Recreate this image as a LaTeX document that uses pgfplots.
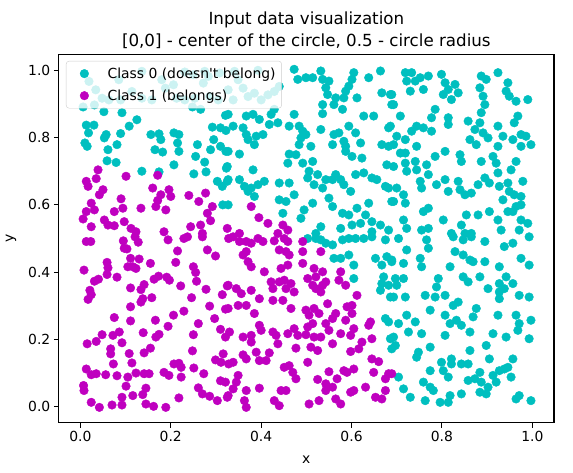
\documentclass[border=0pt]{standalone}
\usepackage{fontspec}
\setmainfont{DejaVu Sans}[Ligatures=TeXOff]
\usepackage{pgfplots}
\pgfplotsset{compat=1.18}
\definecolor{mc}{rgb}{0,0.75,0.75}
\definecolor{mm}{rgb}{0.75,0,0.75}
\definecolor{lgray}{rgb}{0.8,0.8,0.8}
\begin{document}
\begin{tikzpicture}
\begin{axis}[
  at={(0,0)}, anchor=south west,
  scale only axis, width=495.3bp, height=368.4bp,
  xmin=-0.048, xmax=1.048, ymin=-0.0476, ymax=1.0476,
  xtick={0,0.2,0.4,0.6,0.8,1.0}, ytick={0,0.2,0.4,0.6,0.8,1.0},
  xtick pos=bottom, ytick pos=left, tick align=outside,
  major tick length=4.9bp,
  every tick/.style={black, line width=1.1bp},
  axis line style={line width=1.1bp},
  /pgf/number format/fixed,
  /pgf/number format/fixed zerofill,
  /pgf/number format/precision=1,
  /pgf/number format/assume math mode=true,
  tick label style={font=\fontsize{13.95}{16}\selectfont},
  label style={font=\fontsize{13.95}{16}\selectfont},
  xlabel={x}, ylabel={y},
  xlabel shift=7bp, ylabel shift=5bp,
  title style={font=\fontsize{16.75}{22.1}\selectfont, align=center, at={(0.5,1)}, anchor=south, yshift=-4bp},
  title={Input data visualization\\{[0,0]} - center of the circle, 0.5 - circle radius},
  legend style={at={(0.0147,0.982)}, anchor=north west, draw=lgray, rounded corners=3bp,
    fill=white, fill opacity=0.8, text opacity=1, draw opacity=1,
    font=\fontsize{13.95}{16}\selectfont, row sep=6bp, inner xsep=4bp, inner ysep=4.5bp},
  legend cell align=left,
  legend image code/.code={\path (0bp,0bp) (35bp,0bp); \draw[#1, fill opacity=1] plot coordinates {(14bp,0bp)};},
  every axis plot/.append style={mark size=4.3bp},
]
\addplot[only marks, mark=*, color=mc, mark options={fill=mc, draw=mc}] coordinates {
(0.006,0.891)(0.031,0.897)(0.052,0.877)(0.092,0.874)(0.125,0.853)(0.108,0.834)(0.013,0.837)(0.030,0.837)(0.018,0.814)(0.057,0.809)(0.053,0.799)(0.089,0.812)(0.081,0.779)(0.061,0.764)(0.059,0.731)(0.079,0.726)(0.010,0.784)(0.015,0.774)(0.156,0.809)(0.174,0.811)(0.178,0.794)(0.207,0.814)(0.218,0.809)(0.215,0.784)(0.218,0.759)(0.207,0.719)(0.165,0.764)(0.182,0.757)(0.136,0.700)(0.174,0.698)(0.248,0.891)(0.266,0.884)(0.321,0.866)(0.292,0.831)(0.310,0.829)(0.322,0.821)(0.295,0.794)(0.259,0.779)(0.288,0.764)(0.310,0.774)(0.322,0.759)(0.325,0.714)(0.255,0.744)(0.275,0.727)(0.278,0.698)(0.251,0.692)(0.303,0.670)(0.314,0.655)(0.325,0.670)(0.315,0.600)
(0.034,0.942)(0.048,0.917)(0.063,0.912)(0.089,0.912)(0.114,0.937)(0.136,0.917)(0.158,0.912)(0.180,0.972)(0.188,0.947)(0.206,0.957)(0.213,0.917)(0.231,0.912)(0.253,0.917)(0.272,0.962)(0.283,0.982)(0.286,0.922)(0.305,0.912)(0.338,0.912)(0.349,0.972)(0.360,0.947)(0.371,0.922)(0.385,0.932)(0.400,0.912)(0.415,0.927)(0.429,0.937)(0.440,0.952)(0.231,0.995)(0.250,0.987)(0.275,0.997)(0.308,0.992)(0.327,0.942)(0.341,0.997)(0.393,1.0)(0.136,0.997)(0.019,0.967)(0.085,0.972)
(0.473,1.003)(0.481,0.973)(0.499,0.978)(0.514,0.978)(0.532,0.998)(0.536,0.973)(0.550,0.968)(0.543,0.948)(0.547,0.928)(0.565,0.918)(0.561,0.898)(0.580,0.884)(0.583,0.918)(0.587,0.938)(0.605,0.993)(0.601,0.973)(0.594,0.953)(0.612,0.918)(0.638,0.978)(0.664,0.998)(0.667,0.933)(0.686,0.928)(0.689,0.898)(0.536,0.898)(0.536,0.871)(0.473,0.869)(0.429,0.884)(0.422,0.869)(0.327,0.869)(0.367,0.864)(0.382,0.869)(0.396,0.854)(0.418,0.839)(0.437,0.844)(0.462,0.834)(0.484,0.834)(0.492,0.819)(0.499,0.809)(0.488,0.799)(0.484,0.779)(0.510,0.774)(0.532,0.824)(0.561,0.809)(0.572,0.814)(0.558,0.779)(0.583,0.789)(0.587,0.774)(0.594,0.834)(0.609,0.814)(0.620,0.784)(0.627,0.864)(0.649,0.864)(0.682,0.829)(0.667,0.779)(0.682,0.774)(0.678,0.719)(0.623,0.739)(0.601,0.744)(0.587,0.759)(0.338,0.834)(0.360,0.829)(0.367,0.809)(0.389,0.804)(0.404,0.809)(0.385,0.779)(0.371,0.794)(0.327,0.759)(0.352,0.751)(0.323,0.709)(0.462,0.751)(0.477,0.749)(0.492,0.724)(0.459,0.724)(0.514,0.729)(0.506,0.700)(0.503,0.680)(0.517,0.660)(0.525,0.690)(0.543,0.675)(0.536,0.650)(0.558,0.675)(0.565,0.690)(0.576,0.675)(0.583,0.660)(0.598,0.640)(0.609,0.690)(0.627,0.695)(0.645,0.680)(0.656,0.675)(0.675,0.655)(0.682,0.650)(0.689,0.610)(0.327,0.675)(0.352,0.675)(0.363,0.655)(0.378,0.650)(0.393,0.660)(0.407,0.670)(0.440,0.665)(0.462,0.665)(0.382,0.704)(0.371,0.640)(0.385,0.625)(0.440,0.615)(0.455,0.610)(0.448,0.575)(0.473,0.630)(0.495,0.585)(0.488,0.560)(0.514,0.605)(0.550,0.620)(0.558,0.595)(0.580,0.575)(0.594,0.570)(0.612,0.590)(0.638,0.605)(0.631,0.570)(0.645,0.550)(0.645,0.520)(0.620,0.545)(0.601,0.540)(0.576,0.530)(0.532,0.535)(0.521,0.515)(0.664,0.540)(0.682,0.525)(0.327,0.600)
(0.503,0.500)(0.521,0.500)(0.532,0.496)(0.543,0.486)(0.558,0.481)(0.580,0.496)(0.594,0.500)(0.609,0.500)(0.627,0.500)(0.645,0.505)(0.675,0.496)(0.561,0.441)(0.576,0.441)(0.594,0.451)(0.605,0.421)(0.605,0.381)(0.653,0.441)(0.667,0.421)(0.678,0.446)(0.689,0.431)(0.671,0.386)(0.667,0.366)(0.664,0.346)(0.682,0.361)(0.686,0.326)(0.675,0.262)(0.682,0.252)(0.686,0.202)(0.689,0.172)
(0.719,0.993)(0.733,0.993)(0.722,0.968)(0.730,0.938)(0.741,0.968)(0.752,0.978)(0.759,0.943)(0.770,0.983)(0.799,0.988)(0.807,0.963)(0.803,0.928)(0.814,0.943)(0.829,0.958)(0.836,0.933)(0.821,0.913)(0.887,0.983)(0.898,0.973)(0.924,0.993)(0.946,0.963)(0.884,0.948)(0.891,0.923)(0.895,0.898)(0.887,0.874)(0.942,0.938)(0.949,0.923)(0.964,0.908)(0.990,0.913)(0.689,0.928)(0.693,0.898)(0.708,0.864)(0.686,0.834)(0.785,0.884)(0.777,0.859)(0.814,0.859)(0.814,0.839)(0.744,0.834)(0.733,0.819)(0.759,0.829)(0.777,0.819)(0.858,0.849)(0.884,0.844)(0.873,0.824)(0.891,0.814)(0.902,0.799)(0.862,0.794)(0.876,0.779)(0.924,0.834)(0.935,0.804)(0.960,0.844)(0.968,0.864)(0.957,0.794)(0.975,0.809)(0.986,0.804)(0.975,0.774)(0.997,0.779)(0.924,0.774)(0.700,0.804)(0.719,0.794)(0.693,0.779)(0.708,0.754)(0.719,0.754)(0.744,0.774)(0.719,0.724)(0.741,0.729)(0.766,0.719)(0.785,0.744)(0.807,0.759)(0.840,0.749)(0.843,0.729)(0.887,0.729)(0.913,0.744)(0.920,0.724)(0.964,0.729)(0.953,0.704)(0.693,0.714)(0.722,0.700)(0.744,0.704)(0.752,0.670)(0.755,0.650)(0.770,0.690)(0.788,0.660)(0.807,0.675)(0.814,0.640)(0.836,0.670)(0.840,0.645)(0.851,0.630)(0.865,0.635)(0.880,0.660)(0.895,0.680)(0.905,0.665)(0.927,0.655)(0.946,0.665)(0.979,0.670)(0.924,0.695)(0.949,0.640)(0.960,0.630)(0.935,0.615)(0.975,0.625)(0.700,0.650)(0.715,0.630)(0.719,0.605)(0.693,0.610)(0.759,0.580)(0.770,0.590)(0.803,0.555)(0.854,0.570)(0.880,0.570)(0.905,0.580)(0.924,0.555)(0.946,0.580)(0.957,0.580)(0.964,0.595)(0.975,0.600)(0.975,0.555)(0.715,0.555)(0.722,0.530)(0.755,0.525)(0.770,0.530)(0.821,0.515)(0.843,0.540)(0.851,0.515)(0.865,0.515)(0.931,0.525)(0.971,0.525)(0.990,0.545)
(0.704,0.500)(0.766,0.496)(0.770,0.471)(0.825,0.505)(0.847,0.496)(0.865,0.505)(0.895,0.491)(0.938,0.476)(0.957,0.486)(0.993,0.505)(0.722,0.466)(0.689,0.436)(0.715,0.426)(0.752,0.441)(0.755,0.416)(0.818,0.416)(0.829,0.461)(0.847,0.451)(0.862,0.436)(0.869,0.431)(0.895,0.431)(0.927,0.416)(0.975,0.441)(0.993,0.421)(0.697,0.381)(0.715,0.381)(0.700,0.361)(0.792,0.381)(0.788,0.356)(0.847,0.386)(0.858,0.371)(0.884,0.386)(0.902,0.351)(0.927,0.366)(0.942,0.386)(0.938,0.351)(0.957,0.366)(0.693,0.326)(0.719,0.326)(0.763,0.331)(0.785,0.326)(0.807,0.331)(0.825,0.301)(0.836,0.311)(0.876,0.292)(0.927,0.321)(0.927,0.341)(0.971,0.331)(0.993,0.326)(0.774,0.287)(0.807,0.272)(0.832,0.257)(0.818,0.247)(0.843,0.242)(0.862,0.222)(0.869,0.267)(0.722,0.272)(0.704,0.247)(0.741,0.252)(0.726,0.222)(0.755,0.217)(0.807,0.212)(0.913,0.217)(0.942,0.207)(0.924,0.272)(0.964,0.272)(0.971,0.247)(0.968,0.227)(0.997,0.257)(0.993,0.202)(0.693,0.207)(0.697,0.182)(0.898,0.182)(0.774,0.177)(0.748,0.162)(0.744,0.147)(0.862,0.167)(0.905,0.142)(0.799,0.132)(0.821,0.142)(0.821,0.127)(0.843,0.127)(0.858,0.127)(0.803,0.107)(0.774,0.107)(0.814,0.088)(0.858,0.078)(0.873,0.083)(0.884,0.102)(0.887,0.073)(0.913,0.093)(0.920,0.073)(0.927,0.107)(0.938,0.112)(0.946,0.117)(0.957,0.142)(0.953,0.088)(0.704,0.088)(0.715,0.053)(0.730,0.028)(0.759,0.073)(0.774,0.058)(0.763,0.018)(0.781,0.048)(0.796,0.013)(0.818,0.033)(0.814,0.013)(0.843,0.038)(0.884,0.043)(0.898,0.038)(0.902,0.058)(0.964,0.023)(0.971,0.033)(0.997,0.018)
};
\addlegendentry{Class 0 (doesn't belong)}
\addplot[only marks, mark=*, color=mm, mark options={fill=mm, draw=mm}] coordinates {
(0.039,0.704)(0.013,0.670)(0.035,0.678)(0.017,0.655)(0.050,0.645)(0.042,0.630)(0.101,0.685)(0.171,0.688)(0.160,0.650)(0.196,0.645)(0.178,0.630)(0.171,0.613)(0.167,0.595)(0.189,0.585)(0.200,0.625)(0.090,0.618)(0.094,0.590)(0.075,0.580)(0.134,0.590)(0.024,0.605)(0.031,0.585)(0.013,0.580)(0.006,0.558)(0.053,0.555)(0.061,0.540)(0.075,0.538)(0.097,0.550)(0.112,0.530)(0.123,0.520)(0.024,0.535)(0.185,0.520)(0.244,0.535)(0.266,0.540)(0.281,0.575)(0.277,0.635)(0.240,0.628)(0.262,0.610)(0.292,0.595)(0.288,0.553)(0.270,0.515)(0.325,0.530)
(0.013,0.491)(0.023,0.491)(0.095,0.493)(0.121,0.505)(0.128,0.489)(0.097,0.471)(0.103,0.469)(0.194,0.496)(0.229,0.500)(0.237,0.505)(0.270,0.505)(0.328,0.500)(0.215,0.463)(0.281,0.466)(0.299,0.448)(0.111,0.441)(0.130,0.439)(0.105,0.416)(0.116,0.416)(0.123,0.411)(0.155,0.426)(0.211,0.429)(0.059,0.429)(0.061,0.413)(0.008,0.406)(0.031,0.373)(0.040,0.379)(0.059,0.393)(0.081,0.385)(0.163,0.379)(0.173,0.388)(0.191,0.385)(0.197,0.376)(0.222,0.359)(0.250,0.416)(0.255,0.399)(0.257,0.373)(0.278,0.349)(0.325,0.359)(0.314,0.333)(0.021,0.346)(0.024,0.333)(0.017,0.319)(0.111,0.353)(0.134,0.348)(0.141,0.363)(0.138,0.321)(0.134,0.311)(0.158,0.324)(0.246,0.324)(0.286,0.299)(0.321,0.290)(0.297,0.262)(0.111,0.297)(0.075,0.265)(0.111,0.255)(0.166,0.257)(0.206,0.272)(0.229,0.284)(0.194,0.239)(0.261,0.247)(0.250,0.214)(0.310,0.230)(0.321,0.207)(0.015,0.187)(0.035,0.194)(0.048,0.214)(0.072,0.212)(0.086,0.222)(0.092,0.190)(0.139,0.220)(0.167,0.207)(0.174,0.215)(0.067,0.172)(0.067,0.157)(0.073,0.127)(0.108,0.158)(0.114,0.130)(0.141,0.160)(0.155,0.174)(0.248,0.166)(0.299,0.139)(0.316,0.157)(0.311,0.132)(0.328,0.127)(0.013,0.112)(0.024,0.095)(0.035,0.098)(0.056,0.095)(0.081,0.092)(0.105,0.088)(0.123,0.100)(0.141,0.098)(0.152,0.098)(0.185,0.102)(0.196,0.093)(0.207,0.127)(0.218,0.129)(0.223,0.117)(0.223,0.088)(0.251,0.115)(0.273,0.098)(0.310,0.077)(0.321,0.073)(0.007,0.063)(0.008,0.048)(0.101,0.061)(0.145,0.055)(0.138,0.036)(0.116,0.033)(0.092,0.028)(0.261,0.056)(0.270,0.038)(0.286,0.031)(0.303,0.018)(0.325,0.028)(0.218,0.026)(0.024,0.013)(0.042,-0.002)(0.070,0.005)(0.092,0.005)(0.145,0.008)(0.162,0.001)(0.189,-0.002)
(0.378,0.595)(0.395,0.562)(0.415,0.545)(0.448,0.540)(0.459,0.525)(0.437,0.515)(0.352,0.515)
(0.338,0.505)(0.352,0.491)(0.367,0.491)(0.378,0.486)(0.393,0.500)(0.404,0.491)(0.429,0.493)(0.451,0.500)(0.459,0.491)(0.440,0.466)(0.455,0.461)(0.462,0.451)(0.367,0.461)(0.371,0.431)(0.378,0.416)(0.360,0.451)(0.492,0.491)(0.492,0.461)(0.492,0.426)(0.532,0.461)(0.407,0.401)(0.444,0.411)(0.459,0.421)(0.422,0.371)(0.426,0.351)(0.440,0.371)(0.451,0.376)(0.466,0.366)(0.473,0.341)(0.455,0.351)(0.503,0.381)(0.517,0.411)(0.521,0.386)(0.536,0.401)(0.514,0.361)(0.521,0.351)(0.536,0.361)(0.543,0.371)(0.532,0.341)(0.576,0.401)(0.572,0.376)(0.587,0.361)(0.327,0.361)(0.345,0.351)(0.356,0.336)(0.378,0.346)(0.396,0.321)(0.426,0.316)(0.448,0.316)(0.466,0.292)(0.327,0.292)(0.349,0.301)(0.367,0.301)(0.385,0.277)(0.499,0.287)(0.517,0.292)(0.506,0.272)(0.528,0.277)(0.547,0.306)(0.565,0.277)(0.558,0.262)(0.543,0.247)(0.514,0.247)(0.503,0.237)(0.550,0.227)(0.587,0.257)(0.590,0.297)(0.601,0.301)(0.601,0.277)(0.612,0.331)(0.642,0.252)(0.638,0.242)(0.396,0.242)(0.400,0.227)(0.426,0.222)(0.433,0.212)(0.437,0.187)(0.459,0.217)(0.473,0.232)(0.481,0.212)(0.499,0.214)(0.517,0.207)(0.532,0.207)(0.576,0.217)(0.598,0.212)(0.605,0.232)(0.330,0.222)(0.360,0.207)(0.378,0.212)(0.378,0.192)(0.477,0.174)(0.510,0.177)(0.525,0.167)(0.558,0.187)(0.623,0.192)(0.616,0.172)(0.598,0.164)(0.645,0.202)(0.389,0.162)(0.418,0.160)(0.396,0.137)(0.411,0.137)(0.360,0.154)(0.367,0.142)(0.338,0.132)(0.451,0.117)(0.462,0.122)(0.470,0.102)(0.477,0.083)(0.503,0.132)(0.550,0.104)(0.568,0.083)(0.583,0.107)(0.605,0.112)(0.590,0.102)(0.525,0.081)(0.543,0.068)(0.558,0.058)(0.349,0.093)(0.345,0.073)(0.367,0.048)(0.338,0.053)(0.327,0.033)(0.363,0.018)(0.367,-0.002)(0.396,0.055)(0.444,0.048)(0.455,0.048)(0.429,0.018)(0.440,0.003)(0.506,0.008)(0.528,0.018)(0.543,0.048)(0.565,0.023)(0.576,0.008)(0.598,0.043)(0.605,0.048)(0.631,0.058)(0.645,0.142)(0.660,0.134)(0.649,0.102)(0.675,0.083)(0.682,0.098)(0.675,0.048)(0.667,0.023)(0.653,0.028)(0.689,0.098)
};
\addlegendentry{Class 1 (belongs)}
\end{axis}
\pgfresetboundingbox
\path[use as bounding box] (-58.7bp,-50.3bp) rectangle (514.3bp,422.7bp);
\end{tikzpicture}
\end{document}
